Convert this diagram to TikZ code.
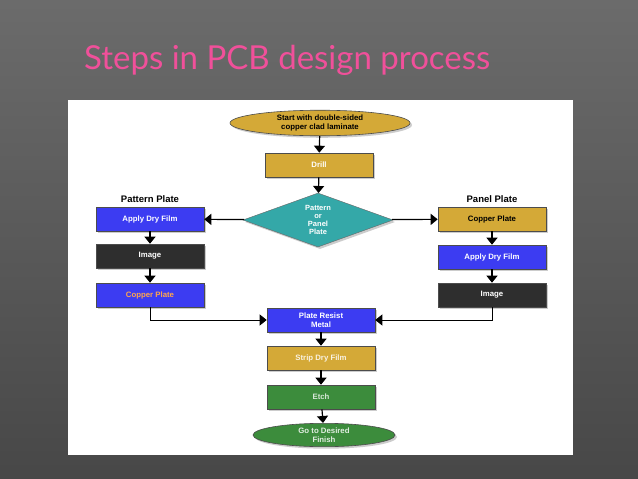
\documentclass[tikz,border=0pt]{standalone}
\usepackage{fontspec}
\setmainfont{Liberation Sans}
\newfontfamily\titlefont{Lato}
\usetikzlibrary{shapes.geometric,shadows,arrows.meta}
\definecolor{gold}{HTML}{D4A937}
\definecolor{bl}{HTML}{3C3CF2}
\definecolor{dk}{HTML}{2E2E2E}
\definecolor{gr}{HTML}{3C8C3C}
\definecolor{tl}{HTML}{34A8A8}
\definecolor{pink}{HTML}{F0509A}
\begin{document}
\begin{tikzpicture}[x=1pt,y=-1pt,
  box/.style={draw=black!70,line width=0.6pt,minimum width=108pt,minimum height=24pt,inner sep=1pt,drop shadow={opacity=0.4,shadow xshift=2pt,shadow yshift=-2pt},font=\bfseries\fontsize{7.8}{8.8}\selectfont,align=center,text=white},
  oval/.style={box,ellipse,minimum height=22pt},
  arr/.style={line width=1.2pt,-{Triangle[length=7pt,width=11pt]}},
  lbl/.style={font=\bfseries\fontsize{9.5}{10}\selectfont}]
\shade[top color=black!58,bottom color=black!72] (0,0) rectangle (638,479);
\fill[white] (68,100) rectangle (573,455);
\node[text=pink,font=\titlefont\fontsize{33}{36}\selectfont,anchor=west,inner sep=0pt] (title) at (84,60) {Steps in PCB design process};
\node[oval,fill=gold,text=black,minimum width=180pt] (s) at (320,123) {Start with double-sided\\copper clad laminate};
\node[box,fill=gold] (d) at (319,165) {Drill};
\node[diamond,draw=black!60,fill=tl,aspect=2.8,minimum width=150pt,minimum height=54pt,inner sep=0pt,font=\bfseries\fontsize{7.5}{7.8}\selectfont,text=white,align=center,drop shadow={opacity=0.4,shadow xshift=2pt,shadow yshift=-2pt}] (q) at (318,220) {Pattern\\or\\Panel\\Plate};
\node[lbl] (pl) at (150,199) {Pattern Plate};
\node[lbl] (pr) at (492,199) {Panel Plate};
\node[box,fill=bl] (a1) at (150,219) {Apply Dry Film};
\node[box,fill=dk] (i1) at (150,256) {Image};
\node[box,fill=bl,text=orange!70!white] (c1) at (150,295) {Copper Plate};
\node[box,fill=gold,text=black] (c2) at (492,219) {Copper Plate};
\node[box,fill=bl] (a2) at (492,257) {Apply Dry Film};
\node[box,fill=dk] (i2) at (492,295) {Image};
\node[box,fill=bl] (pm) at (321,320) {Plate Resist\\Metal};
\node[box,fill=gold,text=white!85!gold] (sf) at (321,358) {Strip Dry Film};
\node[box,fill=gr,text=white!80!gr] (e) at (321,397) {Etch};
\node[oval,fill=gr,minimum width=142pt,text=white!85!gr] (g) at (324,435) {Go to Desired\\Finish};
\draw[arr] (s) -- (d);
\draw[arr] (d) -- (q);
\draw[arr] (q) -- (a1);
\draw[arr] (q) -- (c2);
\draw[arr] (a1) -- (i1);
\draw[arr] (i1) -- (c1);
\draw[arr] (c2) -- (a2);
\draw[arr] (a2) -- (i2);
\draw[arr,line width=0.9pt] (c1) |- (pm);
\draw[arr,line width=0.9pt] (i2) |- (pm);
\draw[arr] (pm) -- (sf);
\draw[arr] (sf) -- (e);
\draw[arr] (e) -- (g);
\end{tikzpicture}
\end{document}
